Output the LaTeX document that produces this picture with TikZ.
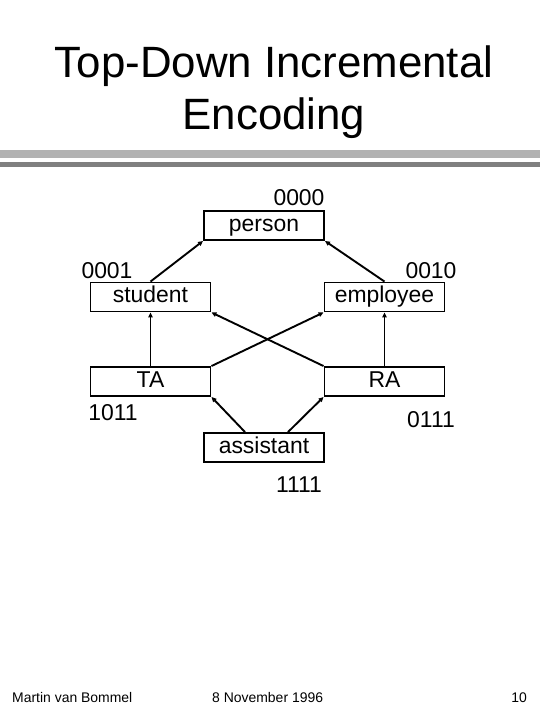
\documentclass[tikz,border=0pt]{standalone}
\usepackage{fontspec}
\setmainfont{Liberation Sans}
\usetikzlibrary{arrows.meta}
\begin{document}
\begin{tikzpicture}[x=1bp,y=-1bp,
  cls/.style={draw, line width=1.9bp, inner sep=0pt, minimum width=120bp, minimum height=29bp, text height=16.5bp, text depth=5.5bp, font=\fontsize{23}{27}\selectfont},
  code/.style={inner sep=0pt, font=\fontsize{23}{27}\selectfont},
  isa/.style={line width=1.9bp, -{Triangle[length=5bp,width=4.5bp]}},
  ttl/.style={inner sep=0pt, anchor=base, font=\fontsize{44}{50}\selectfont},
  foot/.style={inner sep=0pt, font=\fontsize{14}{16}\selectfont}]
\useasboundingbox (0,0) rectangle (540,720);
\fill[white] (0,0) rectangle (540,720);
% title
\node[ttl] (t1) at (274,78) {Top-Down Incremental};
\node[ttl] (t2) at (274,130) {Encoding};
% bars
\shade[left color=black!30, middle color=black!9, right color=black!30] (0,150) rectangle (540,157.7);
\shade[left color=black!50, middle color=black!18, right color=black!50] (0,162) rectangle (540,166.7);
% class boxes
\node[cls] (person) at (264,225.5) {person};
\node[cls] (student) at (150.5,297) {student};
\node[cls] (employee) at (384.5,297) {employee};
\node[cls] (TA) at (150.5,381.5) {TA};
\node[cls] (RA) at (384.5,381.5) {RA};
\node[cls] (assistant) at (264,447.5) {assistant};
% codes
\node[code] (c0000) at (299,198) {0000};
\node[code] (c0001) at (107,271) {0001};
\node[code] (c0010) at (431,271) {0010};
\node[code] (c1011) at (113,413) {1011};
\node[code] (c0111) at (431,420) {0111};
\node[code] (c1111) at (299,485) {1111};
% connectors
\draw[isa] (student.north) -- (person.south west);
\draw[isa] (employee.north) -- (person.south east);
\draw[isa] (TA.north) -- (student.south);
\draw[isa] (RA.north) -- (employee.south);
\draw[isa] (TA.north east) -- (employee.south west);
\draw[isa] (RA.north west) -- (student.south east);
\draw[isa] ([xshift=-19bp]assistant.north) -- (TA.south east);
\draw[isa] ([xshift=24bp]assistant.north) -- (RA.south west);
% footer
\node[foot, anchor=base west] (f1) at (12,702) {Martin van Bommel};
\node[foot, anchor=base west] (f2) at (212,702) {8 November 1996};
\node[foot, anchor=base east] (f3) at (527,702) {10};
\end{tikzpicture}
\end{document}
